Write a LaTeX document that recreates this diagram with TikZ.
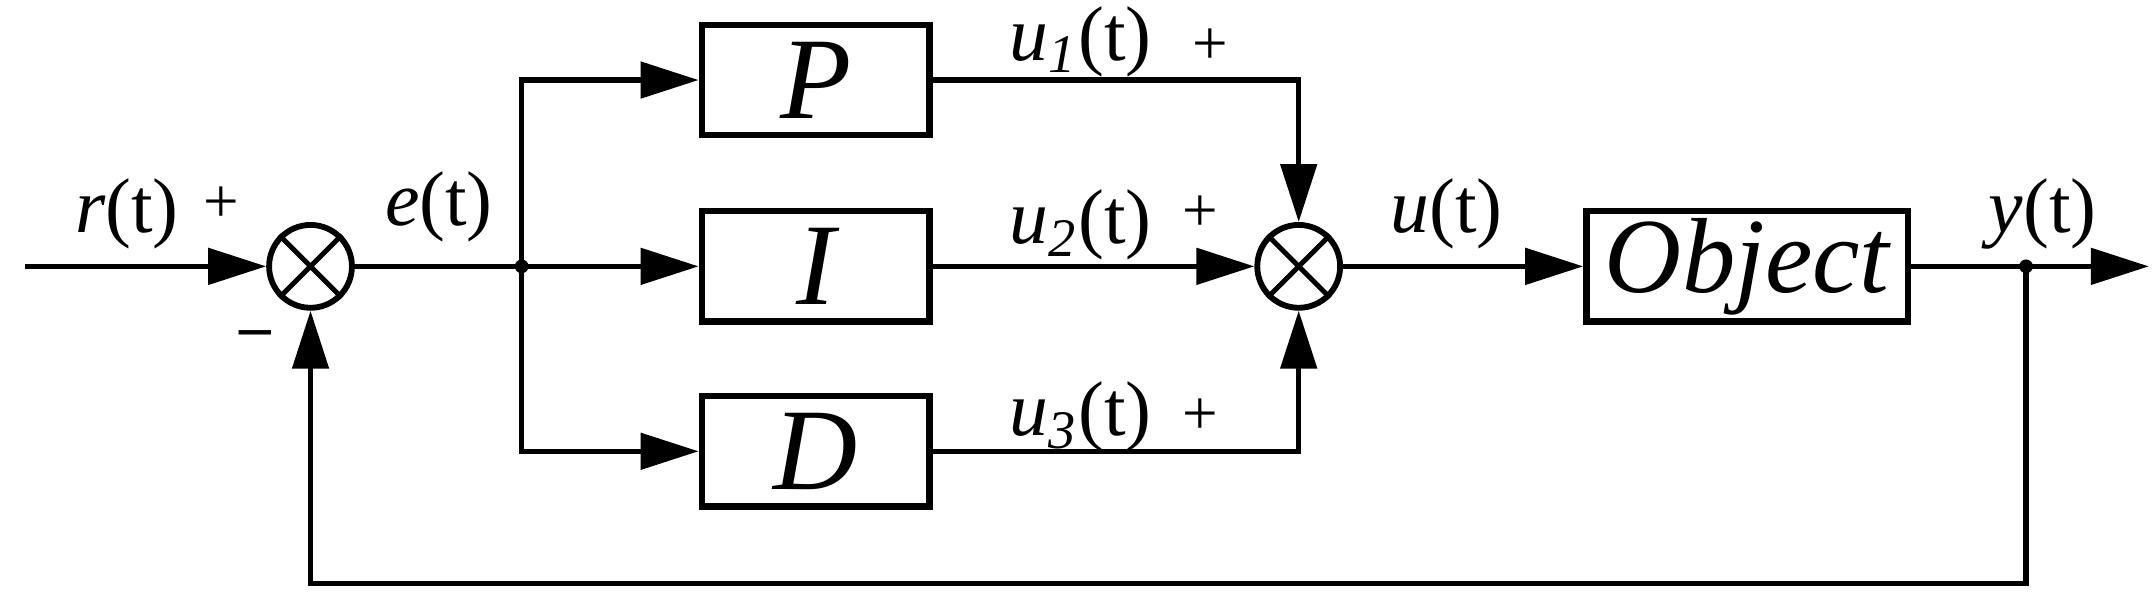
\documentclass[tikz,border=0pt]{standalone}
\usepackage{fontspec}
\setmainfont{Liberation Serif}
\usetikzlibrary{arrows.meta}
\begin{document}
\begin{tikzpicture}[x=0.01cm,y=-0.01cm,
  line width=1.1pt,
  arr/.style={-{Triangle[length=0.42cm,width=0.26cm]}},
  blk/.style={draw,line width=1.3pt,minimum width=1.65cm,minimum height=0.8cm,inner sep=0pt,font=\fontsize{24}{26}\selectfont\itshape},
  sumj/.style={draw,circle,minimum size=0.6cm,inner sep=0pt,line width=1.2pt},
  lbl/.style={font=\fontsize{16}{18}\selectfont},
  pm/.style={font=\fontsize{13}{15}\selectfont}]
\useasboundingbox (0,0) rectangle (1560,440);
\coordinate (in) at (18,193);
\node[sumj] (s1) at (225,193) {};
\draw[line width=1pt] (s1.north west)--(s1.south east) (s1.north east)--(s1.south west);
\node[sumj] (s2) at (941,193) {};
\draw[line width=1pt] (s2.north west)--(s2.south east) (s2.north east)--(s2.south west);
\node[blk] (P) at (591,58) {P};
\node[blk] (I) at (591,193) {I};
\node[blk] (D) at (591,327) {D};
\node[blk,minimum width=2.33cm,font=\fontsize{22}{24}\selectfont\itshape] (O) at (1266,193) {Object};
\coordinate (e) at (378,193);
\coordinate (y) at (1468,193);
\coordinate (out) at (1557,193);
\fill (e) circle (5);
\fill (y) circle (5);
\draw[arr] (in) -- (s1.west);
\draw (s1.east) -- (e);
\draw[arr] (e) -- (I.west);
\draw[arr] (e) |- (P.west);
\draw[arr] (e) |- (D.west);
\draw[arr] (P.east) -| (s2.north);
\draw[arr] (I.east) -- (s2.west);
\draw[arr] (D.east) -| (s2.south);
\draw[arr] (s2.east) -- (O.west);
\draw[arr] (O.east) -- (out);
\draw[arr] (y) -- (1468,423) -| (s1.south);
\node[lbl] (rl) at (92,155) {\textit{r}(t)};
\node[pm] (rp) at (160,148) {+};
\node[lbl] (el) at (318,150) {\textit{e}(t)};
\node[pm] (mn) at (185,246) {\textbf{--}};
\node[lbl] (u1) at (783,30) {\textit{u\textsubscript{1}}(t)};
\node[pm] (p1) at (877,34) {+};
\node[lbl] (u2) at (783,163) {\textit{u\textsubscript{2}}(t)};
\node[pm] (p2) at (870,155) {+};
\node[lbl] (u3) at (783,302) {\textit{u\textsubscript{3}}(t)};
\node[pm] (p3) at (870,302) {+};
\node[lbl] (ul) at (1048,155) {\textit{u}(t)};
\node[lbl] (yl) at (1480,155) {\textit{y}(t)};
\end{tikzpicture}
\end{document}
